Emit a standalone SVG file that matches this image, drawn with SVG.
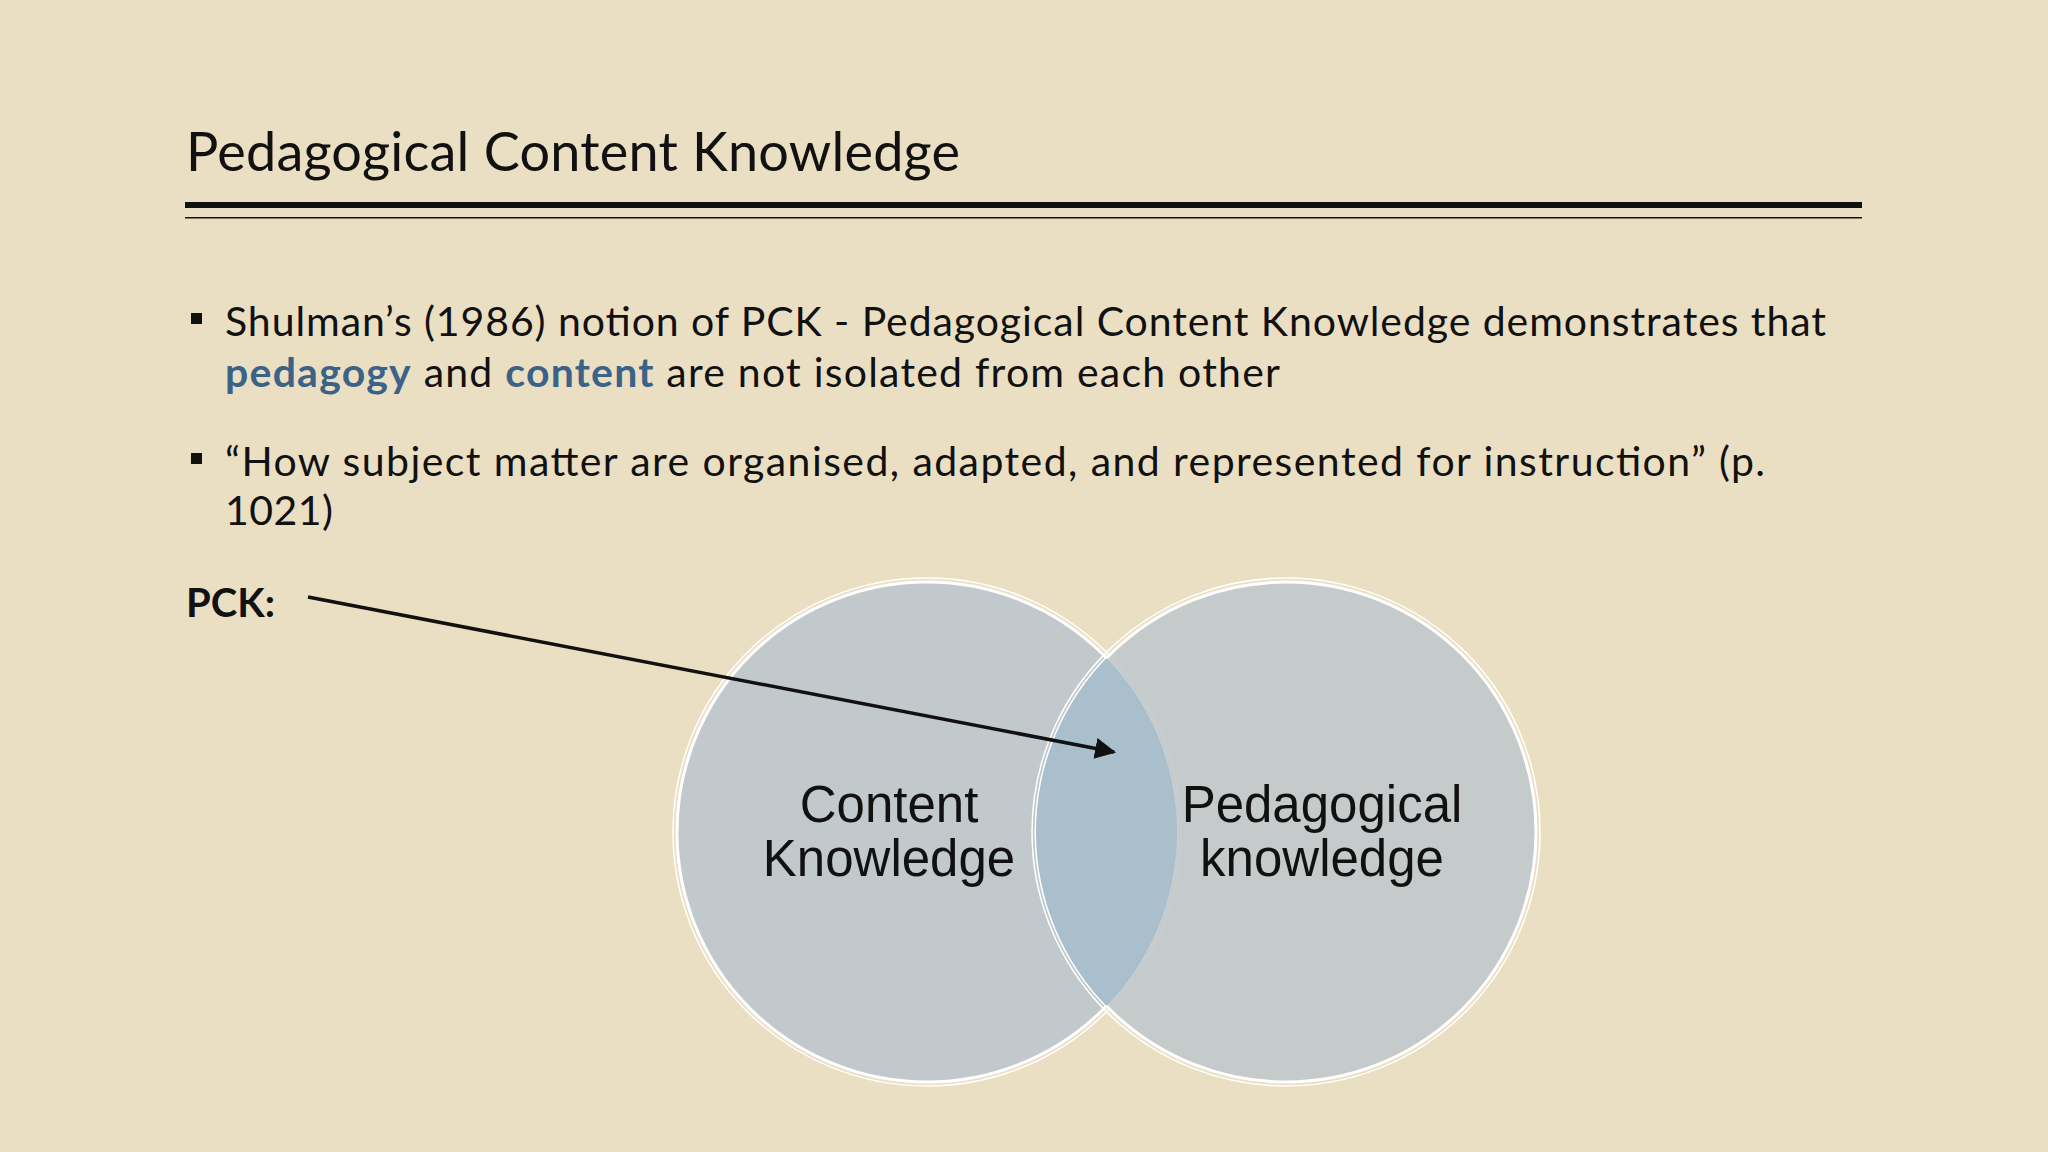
<svg xmlns="http://www.w3.org/2000/svg" width="2048" height="1152" viewBox="0 0 2048 1152">
<defs>
<style>
.t{font-family:Lato,"Open Sans",sans-serif;fill:#111}
.c{font-family:"Liberation Sans",Arial,sans-serif;font-size:51px;fill:#111;text-anchor:middle}
.circ{fill:#c1c9cc;stroke:#fff;stroke-width:3}
</style>
<marker id="ah" viewBox="0 0 10 10" refX="9" refY="5" markerWidth="6" markerHeight="6" orient="auto"><path d="M0,0L10,5L0,10z" fill="#111"/></marker>
<clipPath id="lc"><circle cx="927" cy="832" r="250"/></clipPath>
</defs>
<rect width="2048" height="1152" fill="#ebdfc3"/>
<g id="title"><text class="t" x="186" y="171" font-size="54" textLength="774">Pedagogical Content Knowledge</text>
<rect x="185" y="202" width="1677" height="6" fill="#111"/><rect x="185" y="217" width="1677" height="1.5" fill="#111"/></g>
<g id="bullets">
<rect x="191" y="313" width="11" height="11" fill="#111"/>
<text class="t" x="225" y="336" font-size="41" textLength="1601">Shulman’s (1986) notion of PCK - Pedagogical Content Knowledge demonstrates that</text>
<text class="t" x="225" y="387" font-size="41" textLength="1055"><tspan fill="#3b6287" font-weight="bold">pedagogy</tspan> and <tspan fill="#3b6287" font-weight="bold">content</tspan> are not isolated from each other</text>
<rect x="191" y="453" width="11" height="11" fill="#111"/>
<text class="t" x="225" y="476" font-size="41" textLength="1540">“How subject matter are organised, adapted, and represented for instruction” (p.</text>
<text class="t" x="225" y="525" font-size="41" textLength="108">1021)</text>
<text class="t" x="186" y="617" font-size="40" font-weight="bold">PCK:</text>
</g>
<g id="content"><circle class="circ" cx="927" cy="832" r="250"/><circle cx="927" cy="832" r="254" fill="none" stroke="#fff" stroke-width="1.5"/></g>
<g id="pedagogical"><circle class="circ" cx="1286" cy="832" r="250" fill-opacity="0.9"/><circle cx="1286" cy="832" r="254" fill="none" stroke="#fff" stroke-width="1.5"/>
<circle cx="1286" cy="832" r="250" clip-path="url(#lc)" fill="#a9bfcc"/></g>
<g id="labels"><text class="c" x="889" y="822">Content</text><text class="c" x="889" y="876">Knowledge</text>
<text class="c" x="1322" y="822">Pedagogical</text><text class="c" x="1322" y="876">knowledge</text></g>
<g id="connectors"><line x1="308" y1="597" x2="1114" y2="752" stroke="#111" stroke-width="3.5" marker-end="url(#ah)"/></g>
</svg>
